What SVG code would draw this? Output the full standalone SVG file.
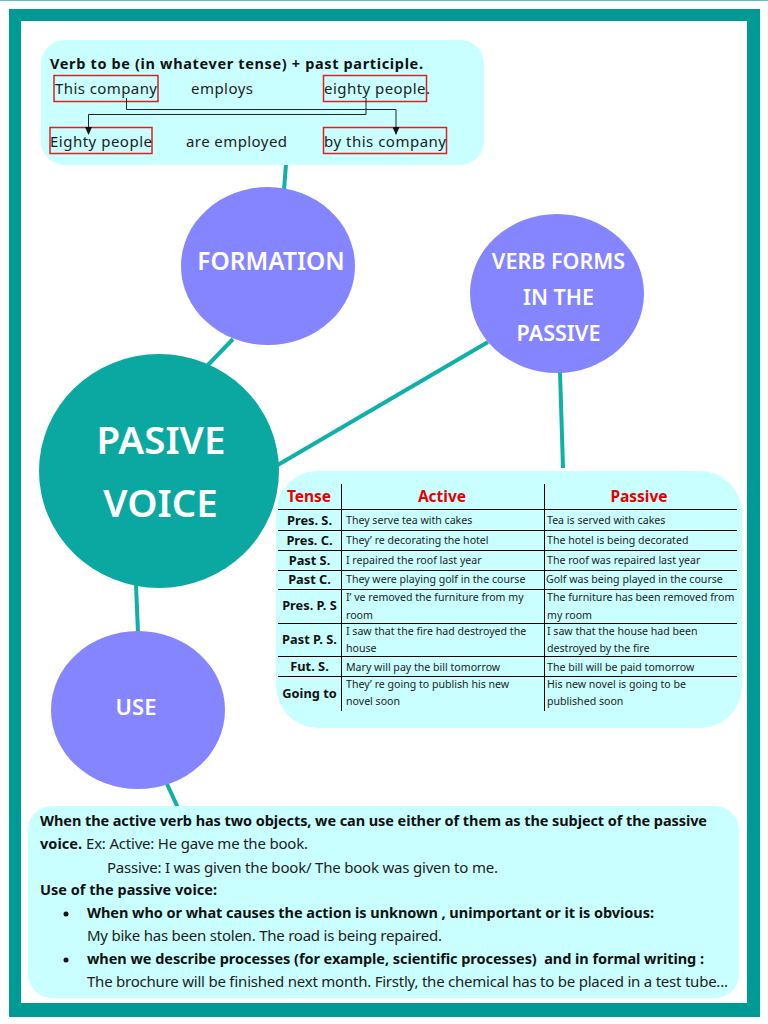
<svg xmlns="http://www.w3.org/2000/svg" width="768" height="1024" viewBox="0 0 768 1024">
<style>
text{font-family:"Noto Sans","Open Sans","DejaVu Sans",sans-serif;fill:#1c1c1c;white-space:pre}
.f{font-size:15px}
.fb{font-size:14.5px;font-weight:700;fill:#111}
.t{font-size:10.6px}
.h{font-size:15.500px;font-weight:700;fill:#e80000;text-anchor:middle}
.r{font-size:12.800px;font-weight:700;text-anchor:middle;fill:#111}
.n{fill:#fff;font-weight:600;text-anchor:middle}
.panel{fill:#c9ffff}
.circle{fill:#8585ff}
.link{stroke:#0fb0aa;stroke-width:4;fill:none}
.redbox{fill:none;stroke:#e02020;stroke-width:1.500}
.arrow{fill:none;stroke:#222;stroke-width:1;marker-end:url(#ah)}
.grid{stroke:#000;stroke-width:1;fill:none}
</style>
<defs><marker id="ah" markerWidth="8" markerHeight="7" refX="7" refY="3.5" orient="auto" markerUnits="userSpaceOnUse"><path d="M0 0L8 3.5L0 7Z" fill="#111"/></marker></defs>
<rect width="768" height="1024" fill="#fff"/>
<rect width="768" height="1" fill="#5fc4c0"/>
<rect x="9" y="9" width="751" height="1008" fill="#009a96"/>
<rect x="21" y="21" width="726" height="982" fill="#fff"/>
<g id="connectors">
<path class="link" d="M286 164L284 190"/>
<path class="link" d="M233 339L207 366"/>
<path class="link" d="M488 342L276 466"/>
<path class="link" d="M560 372L563 468"/>
<path class="link" d="M136 585L138 633"/>
<path class="link" d="M167 784L178 808"/>
</g>
<g id="formation-panel">
<rect class="panel" x="41" y="40" width="443" height="125" rx="24"/>
<text class="fb" x="50" y="69" textLength="373">Verb to be (in whatever tense) + past participle.</text>
<rect class="redbox" x="54" y="75.500" width="104" height="26"/>
<rect class="redbox" x="323.500" y="75.500" width="103" height="26"/>
<rect class="redbox" x="50" y="127.500" width="102" height="26"/>
<rect class="redbox" x="323.500" y="127.500" width="123" height="26"/>
<text class="f" x="55" y="94" textLength="102">This company</text>
<text class="f" x="191" y="94" textLength="62">employs</text>
<text class="f" x="324" y="94" textLength="106">eighty people.</text>
<text class="f" x="50" y="147" textLength="102">Eighty people</text>
<text class="f" x="186" y="147" textLength="101">are employed</text>
<text class="f" x="324" y="147" textLength="122">by this company</text>
<path class="arrow" d="M126.500 98V109.500H396V134"/>
<path class="arrow" d="M366 98V114.500H88.500V134"/>
</g>
<g id="formation"><ellipse class="circle" cx="268" cy="266" rx="87" ry="79"/><text class="n" x="271" y="270" font-size="24.500">FORMATION</text></g>
<g id="verb-forms"><ellipse class="circle" cx="557" cy="293.500" rx="87" ry="79.500"/>
<text class="n" x="558.500" y="269" font-size="21.500">VERB FORMS</text><text class="n" x="558.500" y="305" font-size="21.500">IN THE</text><text class="n" x="558.500" y="341" font-size="21.500">PASSIVE</text></g>
<g id="passive-voice"><ellipse cx="159" cy="471" rx="120" ry="117" fill="#0ba8a2"/>
<text class="n" x="161" y="454" font-size="38.500">PASIVE</text><text class="n" x="160.500" y="517" font-size="38.500">VOICE</text></g>
<g id="use"><ellipse class="circle" cx="138" cy="710" rx="87" ry="79"/><text class="n" x="136" y="715" font-size="22">USE</text></g>
<g id="table-panel">
<rect class="panel" x="276" y="471" width="466" height="257" rx="42"/>
<path class="grid" d="M341.500 484V711M544.500 484V711"/>
<path class="grid" d="M278 509.500H737M278 530.500H737M278 550.500H737M278 570.500H737M278 589.500H737M278 623.500H737M278 656.500H737M278 676.500H737"/>
<text class="h" x="309" y="502">Tense</text><text class="h" x="442" y="502">Active</text><text class="h" x="639" y="502">Passive</text>
<text class="r" x="309.500" y="525">Pres. S.</text><text class="r" x="309.500" y="545">Pres. C.</text><text class="r" x="309.500" y="565">Past S.</text><text class="r" x="309.500" y="584">Past C.</text><text class="r" x="309.500" y="610">Pres. P. S</text><text class="r" x="309.500" y="644">Past P. S.</text><text class="r" x="309.500" y="671">Fut. S.</text><text class="r" x="309.500" y="698">Going to</text>
<text class="t" x="346" y="524">They serve tea with cakes</text><text class="t" x="547" y="524">Tea is served with cakes</text>
<text class="t" x="346" y="544">They’ re decorating the hotel</text><text class="t" x="547" y="544">The hotel is being decorated</text>
<text class="t" x="346" y="564">I repaired the roof last year</text><text class="t" x="547" y="564">The roof was repaired last year</text>
<text class="t" x="346" y="583">They were playing golf in the course</text><text class="t" x="546" y="583">Golf was being played in the course</text>
<text class="t" x="346" y="601">I’ ve removed the furniture from my</text><text class="t" x="547" y="601">The furniture has been removed from</text>
<text class="t" x="346" y="619">room</text><text class="t" x="547" y="619">my room</text>
<text class="t" x="346" y="635">I saw that the fire had destroyed the</text><text class="t" x="547" y="635">I saw that the house had been</text>
<text class="t" x="346" y="652">house</text><text class="t" x="547" y="652">destroyed by the fire</text>
<text class="t" x="346" y="671">Mary will pay the bill tomorrow</text><text class="t" x="547" y="671">The bill will be paid tomorrow</text>
<text class="t" x="346" y="688">They’ re going to publish his new</text><text class="t" x="547" y="688">His new novel is going to be</text>
<text class="t" x="346" y="705">novel soon</text><text class="t" x="547" y="705">published soon</text>
</g>
<g id="use-panel">
<rect class="panel" x="28" y="806" width="711" height="192" rx="24"/>
<text class="fb" x="40" y="826" textLength="667">When the active verb has two objects, we can use either of them as the subject of the passive</text>
<text class="fb" x="40" y="849" textLength="42">voice.</text>
<text class="f" x="86" y="849" textLength="222">Ex: Active: He gave me the book.</text>
<text class="f" x="107" y="873" textLength="391">Passive: I was given the book/ The book was given to me.</text>
<text class="fb" x="40" y="895" textLength="177">Use of the passive voice:</text>
<circle cx="66" cy="914" r="2.500" fill="#111"/>
<text class="fb" x="87" y="918" textLength="567">When who or what causes the action is unknown , unimportant or it is obvious:</text>
<text class="f" x="87" y="941" textLength="355">My bike has been stolen. The road is being repaired.</text>
<circle cx="66" cy="960" r="2.500" fill="#111"/>
<text class="fb" x="87" y="964" textLength="617">when we describe processes (for example, scientific processes)  and in formal writing :</text>
<text class="f" x="87" y="987" textLength="641">The brochure will be finished next month. Firstly, the chemical has to be placed in a test tube...</text>
</g>
</svg>
